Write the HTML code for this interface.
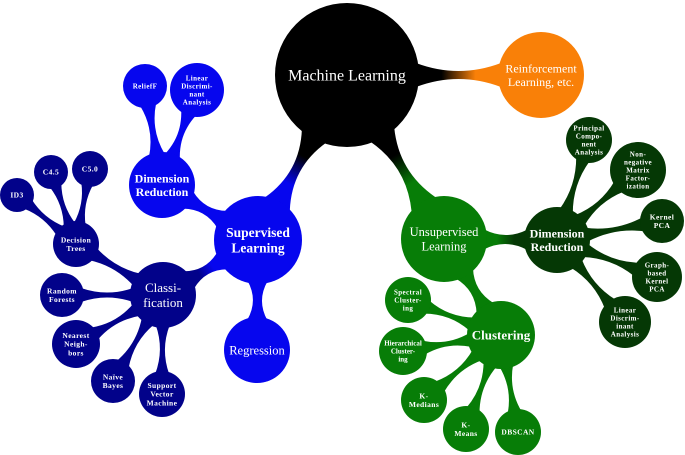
<!DOCTYPE html>
<html><head><meta charset="utf-8"><style>
html,body{margin:0;padding:0;background:#fff;}
svg{display:block;}
text{font-family:"Liberation Serif",serif;fill:#fff;text-anchor:middle;}
</style></head><body>
<svg id="s" width="685" height="455" viewBox="0 0 685 455" xmlns="http://www.w3.org/2000/svg"><defs id="d"></defs><g id="c"></g><g id="n"></g></svg>
<script>
const B='#0606ee',NB='#02028a',G='#077d07',DG='#053805',O='#f98008',K='#000';
const N={
ml:[347,75,72,K],rl:[541,75,43,O],
sl:[258,240,44,B],rg:[257,350,33,B],dr1:[162,185,33,B],rf:[145,86,22,B],lda1:[197,90,27,B],
cl:[163,295,33,NB],dt:[76,244,23,NB],id3:[17,195,17,NB],c45:[51,172,17,NB],c50:[90,169,18,NB],
rfo:[62,295,22,NB],nn:[76,344,24,NB],nb:[113,381,22,NB],svm:[162,394,23,NB],
ul:[444,239,43,G],dr2:[557,240,33,DG],pca:[589,140,23,DG],nmf:[638,170,28,DG],kp:[662,221,22,DG],gk:[657,277,25,DG],lda2:[625,322,26,DG],
cu:[501,335,34,G],sc:[408,300,23,G],hc:[403,351,24,G],km:[424,400,23,G],kms:[466,429,23,G],db:[518,432,23,G]};
// [from,to,flare half-width, mid half-width]
const E=[['ml','rl',12,4],['ml','sl',14,4.5],['ml','ul',14,4.5],['sl','rg',10,4.5],['sl','dr1',10,4.5],['dr1','rf',8,3],['dr1','lda1',8,3],
['sl','cl',10,4.5],['cl','dt',7,3],['dt','id3',6,2.5],['dt','c45',6,2.5],['dt','c50',6,2.5],['cl','rfo',7,2.5],['cl','nn',7,2.5],['cl','nb',7,2.5],['cl','svm',7,2.5],
['ul','dr2',10,4.5],['ul','cu',10,4.5],['dr2','pca',7,2.5],['dr2','nmf',7,2.5],['dr2','kp',7,2.5],['dr2','gk',7,2.5],['dr2','lda2',7,2.5],
['cu','sc',7,2.5],['cu','hc',7,2.5],['cu','km',7,2.5],['cu','kms',7,2.5],['cu','db',7,2.5]];
const ns='http://www.w3.org/2000/svg';
function el(t,a,p){const e=document.createElementNS(ns,t);for(const k in a)e.setAttribute(k,a[k]);p.appendChild(e);return e;}
const d=document.getElementById('d'),c=document.getElementById('c'),n=document.getElementById('n');
E.forEach((e,i)=>{const a=N[e[0]],b=N[e[1]];
 const dx=b[0]-a[0],dy=b[1]-a[1],L=Math.hypot(dx,dy),ux=dx/L,uy=dy/L;
 const A=[a[0]+ux*(a[2]-3),a[1]+uy*(a[2]-3)],Bp=[b[0]-ux*(b[2]-3),b[1]-uy*(b[2]-3)];
 const g=el('linearGradient',{id:'g'+i,gradientUnits:'userSpaceOnUse',x1:A[0],y1:A[1],x2:Bp[0],y2:Bp[1]},d);
 el('stop',{offset:0.3,'stop-color':a[3]},g);el('stop',{offset:0.7,'stop-color':b[3]},g);
 const px=-uy,py=ux,w=e[2],hm=e[3];const M=[(A[0]+Bp[0])/2,(A[1]+Bp[1])/2];const co=2*hm-w;
 const P=(p,s,k)=>[(p[0]+px*s*k).toFixed(1),(p[1]+py*s*k).toFixed(1)].join(',');
 const dd='M'+P(A,1,w)+' Q'+P(M,1,co)+' '+P(Bp,1,w)+' L'+P(Bp,-1,w)+' Q'+P(M,-1,co)+' '+P(A,-1,w)+'Z';
 el('path',{d:dd,fill:'url(#g'+i+')'},c);
});
for(const k in N){const v=N[k];el('circle',{cx:v[0],cy:v[1],r:v[2],fill:v[3]},n);}
function T(k,lines,fs,bold,ls){const v=N[k];const lh=fs*1.15;const y0=v[1]-(lines.length-1)*lh/2+fs*0.35;
 lines.forEach((l,i)=>{const t=el('text',{x:v[0],y:y0+i*lh,'font-size':fs,'font-weight':bold?'bold':'normal','letter-spacing':ls||0},n);t.textContent=l;});}
const S=0.4;
T('ml',['Machine Learning'],16);
T('rl',['Reinforcement','Learning, etc.'],12);
T('sl',['Supervised','Learning'],13.5,1);
T('rg',['Regression'],12.5);
T('dr1',['Dimension','Reduction'],12,1);
T('rf',['ReliefF'],7,1,S);
T('lda1',['Linear','Discrimi-','nant','Analysis'],7,1,S);
T('cl',['Classi-','fication'],13);
T('dt',['Decision','Trees'],7.5,1,S);
T('id3',['ID3'],7.5,1,S);T('c45',['C4.5'],7.5,1,S);T('c50',['C5.0'],7.5,1,S);
T('rfo',['Random','Forests'],7.5,1,S);
T('nn',['Nearest','Neigh-','bors'],7.5,1,S);
T('nb',['Naïve','Bayes'],7.5,1,S);
T('svm',['Support','Vector','Machine'],7.5,1,S);
T('ul',['Unsupervised','Learning'],12.5);
T('dr2',['Dimension','Reduction'],12,1);
T('pca',['Principal','Compo-','nent','Analysis'],7,1,S);
T('nmf',['Non-','negative','Matrix','Factor-','ization'],7,1,S);
T('kp',['Kernel','PCA'],7.5,1,S);
T('gk',['Graph-','based','Kernel','PCA'],7,1,S);
T('lda2',['Linear','Discrim-','inant','Analysis'],7,1,S);
T('cu',['Clustering'],13,1);
T('sc',['Spectral','Cluster-','ing'],7,1,S);
T('hc',['Hierarchical','Cluster-','ing'],7,1,0);
T('km',['K-','Medians'],7.5,1,S);
T('kms',['K-','Means'],7.5,1,S);
T('db',['DBSCAN'],7.5,1,S);
</script>
</body></html>
